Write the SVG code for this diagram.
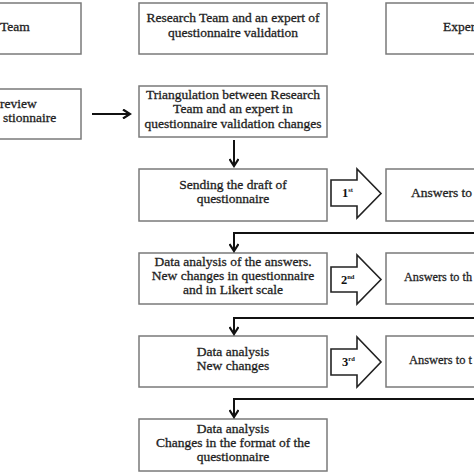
<svg xmlns="http://www.w3.org/2000/svg" width="474" height="474" viewBox="0 0 474 474">
<defs>
<style>
.box{fill:#fff;stroke:#7a7a7a;stroke-width:1.5}
.t{font-family:"Liberation Serif","Times New Roman",serif;font-size:13.5px;fill:#1e1e1e;stroke:#1e1e1e;stroke-width:0.3;text-anchor:middle}
.ts{font-family:"Liberation Serif","Times New Roman",serif;font-size:13.5px;fill:#1e1e1e;stroke:#1e1e1e;stroke-width:0.3}
.lbl{font-family:"Liberation Serif","Times New Roman",serif;font-size:12.5px;font-weight:bold;fill:#111}
.sup{font-size:6.5px}
.con{fill:none;stroke:#111;stroke-width:2}
.blk{fill:#fff;stroke:#222;stroke-width:1.6;stroke-linejoin:miter}
</style>
<marker id="v" markerWidth="10" markerHeight="10" refX="8" refY="5" orient="auto" markerUnits="userSpaceOnUse">
<path d="M1,0.5 L8,5 L1,9.5" fill="none" stroke="#111" stroke-width="2.2"/>
</marker>
</defs>
<rect width="474" height="474" fill="#fff"/>
<g id="n-team"><rect class="box" x="-5" y="3" width="86" height="51"/><text class="ts" x="0" y="31">Team</text></g>
<g id="n-rtexpert"><rect class="box" x="139" y="3" width="188" height="51"/><text class="t" x="233" y="22">Research Team and an expert of</text><text class="t" x="233" y="37">questionnaire validation</text></g>
<g id="n-expert"><rect class="box" x="386" y="3" width="100" height="51"/><text class="ts" x="443" y="31">Exper</text></g>
<g id="n-review"><rect class="box" x="-5" y="89" width="86" height="50"/><text class="ts" x="0" y="108">review</text><text class="ts" x="3" y="122">stionnaire</text></g>
<g id="n-triang"><rect class="box" x="139" y="86" width="188" height="51"/><text class="t" x="233" y="99">Triangulation between Research</text><text class="t" x="233" y="113">Team and an expert in</text><text class="t" x="233" y="128">questionnaire validation changes</text></g>
<g id="n-send"><rect class="box" x="139" y="169" width="188" height="52"/><text class="t" x="233" y="189">Sending the draft of</text><text class="t" x="233" y="203">questionnaire</text></g>
<g id="n-ans1"><rect class="box" x="386" y="169" width="100" height="52"/><text class="ts" x="411" y="197">Answers to</text></g>
<g id="n-da1"><rect class="box" x="139" y="253" width="188" height="51"/><text class="t" x="233" y="266">Data analysis of the answers.</text><text class="t" x="233" y="280">New changes in questionnaire</text><text class="t" x="233" y="294">and in Likert scale</text></g>
<g id="n-ans2"><rect class="box" x="386" y="253" width="100" height="51"/><text class="ts" x="404" y="281" textLength="68" lengthAdjust="spacingAndGlyphs">Answers to th</text></g>
<g id="n-da2"><rect class="box" x="139" y="336" width="188" height="51"/><text class="t" x="233" y="356">Data analysis</text><text class="t" x="233" y="370">New changes</text></g>
<g id="n-ans3"><rect class="box" x="386" y="336" width="100" height="51"/><text class="ts" x="409" y="364" textLength="63" lengthAdjust="spacingAndGlyphs">Answers to t</text></g>
<g id="n-da3"><rect class="box" x="139" y="419" width="188" height="52"/><text class="t" x="233" y="433">Data analysis</text><text class="t" x="233" y="447">Changes in the format of the</text><text class="t" x="233" y="461">questionnaire</text></g>
<g id="connectors">
<path class="con" d="M92,114 H130" marker-end="url(#v)"/>
<path class="con" d="M234,140 V166" marker-end="url(#v)"/>
<path class="con" d="M480,233 H234 V251" marker-end="url(#v)"/>
<path class="con" d="M480,318 H234 V334" marker-end="url(#v)"/>
<path class="con" d="M480,399 H234 V417" marker-end="url(#v)"/>
<path class="blk" d="M331,180 H357 V169 L381,193.5 L357,218 V206 H331 Z"/>
<text class="lbl" x="342" y="197">1<tspan class="sup" dy="-5">st</tspan></text>
<path class="blk" d="M331,267 H357 V255 L381,279.5 L357,304 V292 H331 Z"/>
<text class="lbl" x="341" y="284">2<tspan class="sup" dy="-5">nd</tspan></text>
<path class="blk" d="M331,349 H357 V337 L381,362 L357,387 V375 H331 Z"/>
<text class="lbl" x="342" y="366">3<tspan class="sup" dy="-5">rd</tspan></text>
</g>
</svg>
